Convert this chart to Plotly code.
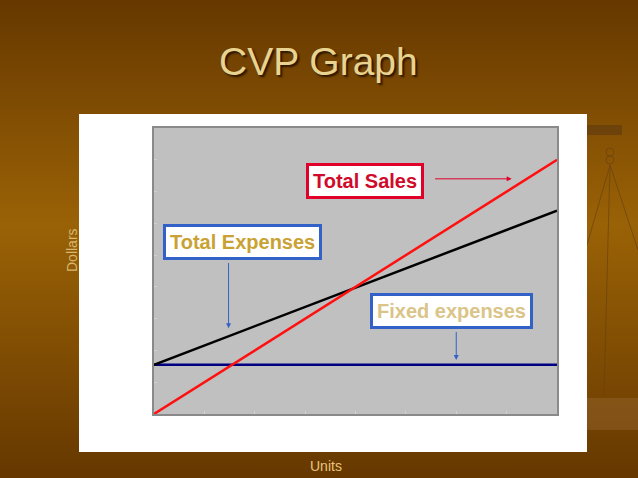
import base64

import plotly.graph_objects as go

# values (dollars in grid steps, units in grid steps)
units = [0, 8]
total_sales = [0.0, 8.0]
total_expenses = [1.55, 6.4]
fixed_expenses = [1.55, 1.55]

W, H = 638, 478


def px_x(p):
    return p / W


def px_y(p):
    return 1 - p / H


# slide background: brown vertical gradient with a faint balance scale on the right
bg_svg = f"""<svg xmlns='http://www.w3.org/2000/svg' width='{W}' height='{H}'>
<defs><linearGradient id='g' x1='0' y1='0' x2='0' y2='1'>
<stop offset='0' stop-color='#663800'/>
<stop offset='0.47' stop-color='#9a6206'/>
<stop offset='1' stop-color='#663800'/>
</linearGradient></defs>
<rect width='{W}' height='{H}' fill='url(#g)'/>
<rect x='586' y='125' width='36' height='10' fill='#5e3a10' opacity='0.6'/>
<g stroke='#6a4210' stroke-width='1' fill='none' opacity='0.7'>
<circle cx='610' cy='152' r='4'/><circle cx='610' cy='160' r='4'/>
<line x1='610' y1='165' x2='587' y2='245'/>
<line x1='610' y1='165' x2='604' y2='395'/>
<line x1='610' y1='165' x2='638' y2='250'/>
</g>
<rect x='586' y='398' width='52' height='32' fill='#a07040' opacity='0.35'/>
</svg>"""
bg_src = "data:image/svg+xml;base64," + base64.b64encode(bg_svg.encode()).decode()

fig = go.Figure()
fig.add_trace(go.Scatter(x=units, y=fixed_expenses, mode="lines",
                         line=dict(color="#000080", width=2.5), name="Fixed expenses"))
fig.add_trace(go.Scatter(x=units, y=total_expenses, mode="lines",
                         line=dict(color="#000000", width=2.5), name="Total Expenses"))
fig.add_trace(go.Scatter(x=units, y=total_sales, mode="lines",
                         line=dict(color="#ff1010", width=2.5), name="Total Sales"))

box_font = dict(family="Liberation Sans, Arial", size=20)
box = dict(xref="paper", yref="paper", showarrow=False, xanchor="center", yanchor="middle",
           bgcolor="white", borderwidth=3, borderpad=4)
annotations = [
    dict(text="CVP Graph", xref="paper", yref="paper", x=px_x(318), y=px_y(62),
         showarrow=False, xanchor="center", yanchor="middle",
         font=dict(family="Liberation Sans, Arial", size=39, color="#e8d390",
                   shadow="2px 2px 2px #2a1600")),
    dict(text="Dollars", xref="paper", yref="paper", x=px_x(72), y=px_y(250),
         showarrow=False, textangle=-90, xanchor="center", yanchor="middle",
         font=dict(family="Liberation Sans, Arial", size=14, color="#d8b66e")),
    dict(text="Units", xref="paper", yref="paper", x=px_x(326), y=px_y(466),
         showarrow=False, xanchor="center", yanchor="middle",
         font=dict(family="Liberation Sans, Arial", size=14, color="#e8c47e")),
    # label boxes
    dict(text="<b>Total Sales</b>", x=px_x(365), y=px_y(180.5), bordercolor="#e0002a",
         font=dict(color="#d00a2a", **box_font), **box),
    dict(text="<b>Total Expenses</b>", x=px_x(242.5), y=px_y(241.5), bordercolor="#3262c8",
         font=dict(color="#c9a233", **box_font), **box),
    dict(text="<b>Fixed expenses</b>", x=px_x(451), y=px_y(310.5), bordercolor="#3262c8",
         font=dict(color="#dac487", **box_font), **box),
    # arrows
    dict(text="", xref="x", yref="y", x=7.1, y=7.4, axref="x", ayref="y", ax=5.55, ay=7.4,
         showarrow=True, arrowhead=2, arrowsize=1, arrowwidth=1, arrowcolor="#e0002a"),
    dict(text="", xref="x", yref="y", x=1.48, y=2.7, axref="x", ayref="y", ax=1.48, ay=4.8,
         showarrow=True, arrowhead=2, arrowsize=1, arrowwidth=1, arrowcolor="#3262c8"),
    dict(text="", xref="x", yref="y", x=6.0, y=1.7, axref="x", ayref="y", ax=6.0, ay=2.63,
         showarrow=True, arrowhead=2, arrowsize=1, arrowwidth=1, arrowcolor="#3262c8"),
]

axis_style = dict(dtick=1, showgrid=False, zeroline=False, showticklabels=False,
                  ticks="inside", ticklen=3, tickcolor="#d2d2d2", showline=True,
                  linecolor="#8a8a8a", linewidth=1.5, mirror=True, fixedrange=True)

fig.update_layout(
    width=W, height=H,
    margin=dict(l=0, r=0, t=0, b=0),
    paper_bgcolor="#7a4a00",
    plot_bgcolor="rgba(0,0,0,0)",
    showlegend=False,
    hovermode=False,
    images=[dict(source=bg_src, xref="paper", yref="paper", x=0, y=1, sizex=1, sizey=1,
                 sizing="stretch", layer="below", xanchor="left", yanchor="top")],
    shapes=[
        # white chart panel
        dict(type="rect", xref="paper", yref="paper", x0=px_x(79), x1=px_x(587),
             y0=px_y(452), y1=px_y(114), fillcolor="white", line=dict(width=0),
             layer="below"),
        # gray plot area
        dict(type="rect", xref="x domain", yref="y domain", x0=0, x1=1, y0=0, y1=1,
             fillcolor="#c0c0c0", line=dict(width=0), layer="below"),
    ],
    annotations=annotations,
    xaxis=dict(domain=[px_x(154), px_x(557)], range=[0, 8], **axis_style),
    yaxis=dict(domain=[px_y(414), px_y(128)], range=[0, 9], **axis_style),
)

fig.write_html("out.html", config={"displayModeBar": False},
               post_script="document.body.style.margin = '0';")
